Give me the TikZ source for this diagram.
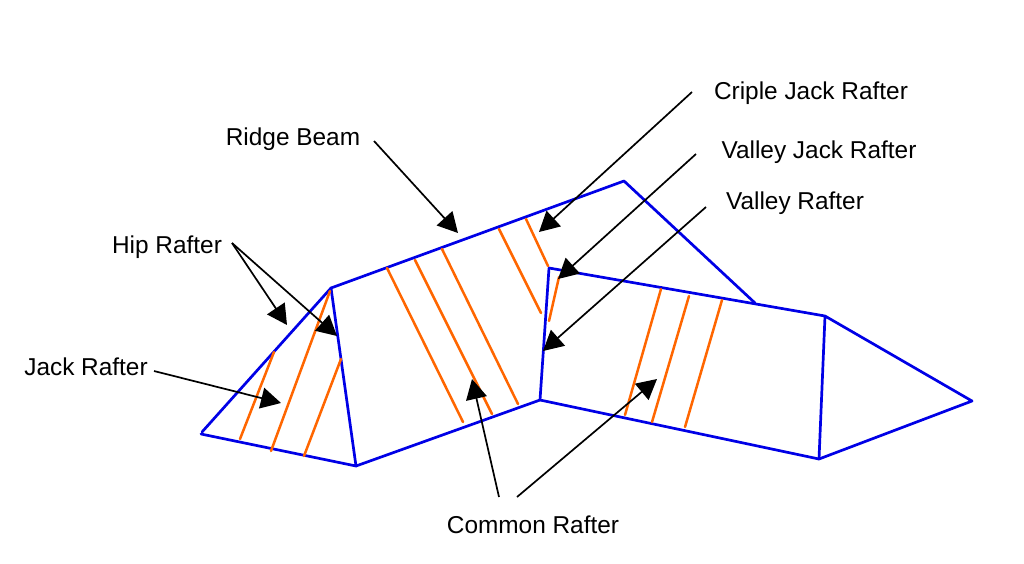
\documentclass[tikz,border=0pt]{standalone}
\usepackage{fontspec}
\setmainfont{Liberation Sans}
\usetikzlibrary{arrows.meta}
\definecolor{roofblue}{RGB}{0,0,230}
\definecolor{rafterorange}{RGB}{255,102,0}

\begin{document}
\begin{tikzpicture}[
    x=1pt, y=-1pt,
    >={Triangle[length=20pt,width=21pt]},
    every node/.style={font=\fontsize{24.4}{28}\selectfont, inner sep=1pt},
    roofline/.style={draw=roofblue, line width=2.7pt, line cap=round, line join=round},
    rafter/.style={draw=rafterorange, line width=2.5pt, line cap=round},
    pointer/.style={->, line width=1.7pt}
]
\useasboundingbox (0,0) rectangle (1024,563);

% labels
\node (criple) at (811,93.5)  {Criple Jack Rafter};
\node (valleyjack) at (819,152.5) {Valley Jack Rafter};
\node (valley) at (795,203.5) {Valley Rafter};
\node (ridge) at (293,139.5) {Ridge Beam};
\node (hip) at (167,247.5) {Hip Rafter};
\node (jack) at (86,366.5) {Jack Rafter};
\node (common) at (533,524.5) {Common Rafter};

% roof outline
\draw[roofline] (202,432) -- (331,288) -- (624,181) -- (755,303);
\draw[roofline] (201,434) -- (356,466) -- (331,288);
\draw[roofline] (356,466) -- (540,400) -- (549,268) -- (825,316) -- (972,401) -- (819,459) -- (825,316);
\draw[roofline] (540,400) -- (819,459);

% rafters
\foreach \xa/\ya/\xb/\yb in {240/439/274/352, 271/451/330/291, 304/456/341/359,
    463/422/387/268, 492/414/415/260, 518/404/442/249, 541/313/499/229, 548/266/526/219,
    549/321/559/277, 625/415/661/289, 652/422/689/296, 685/427/722/300}
    \draw[rafter] (\xa,\ya) -- (\xb,\yb);

% pointers
\coordinate (crstart) at (692,92);
\coordinate (crend) at (539,232);
\coordinate (vjstart) at (696,154);
\coordinate (vjend) at (558,279);
\coordinate (vrstart) at (706,207);
\coordinate (vrend) at (543,351);
\coordinate (rbstart) at (374,141);
\coordinate (rbend) at (458,233);
\coordinate (hipstart) at (232,243);
\coordinate (hipenda) at (287,325);
\coordinate (hipendb) at (337,336);
\coordinate (jrstart) at (154,371);
\coordinate (jrend) at (281,403);
\coordinate (castart) at (499,497);
\coordinate (caend) at (472,379);
\coordinate (cbstart) at (517,497);
\coordinate (cbend) at (657,379);

\draw[pointer] (crstart) -- (crend);
\draw[pointer] (vjstart) -- (vjend);
\draw[pointer] (vrstart) -- (vrend);
\draw[pointer] (rbstart) -- (rbend);
\draw[pointer] (hipstart) -- (hipenda);
\draw[pointer] (hipstart) -- (hipendb);
\draw[pointer] (jrstart) -- (jrend);
\draw[pointer] (castart) -- (caend);
\draw[pointer] (cbstart) -- (cbend);

\end{tikzpicture}
\end{document}
